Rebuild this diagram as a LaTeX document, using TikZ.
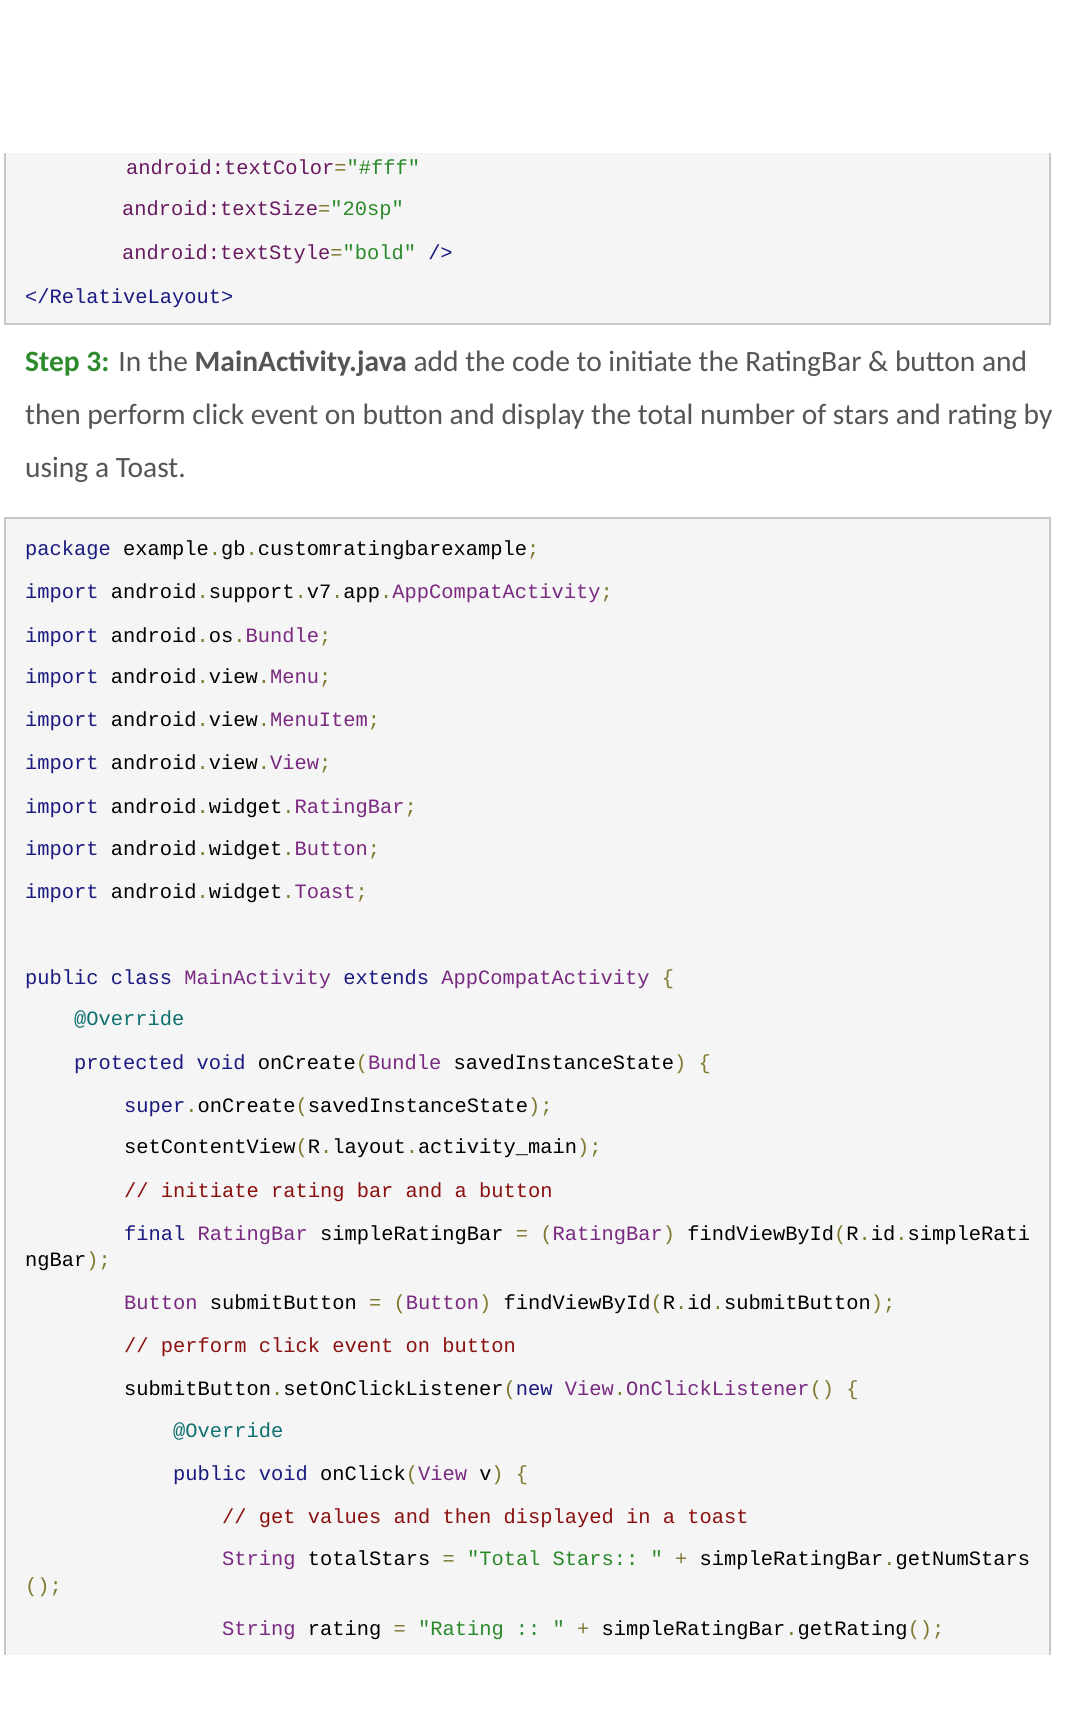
\documentclass[tikz,border=0pt]{standalone}
\usepackage{fontspec}
\setmainfont{Carlito}
\setmonofont{Liberation Mono}
\definecolor{kw}{HTML}{1A1A80}
\definecolor{cl}{HTML}{7A2A80}
\definecolor{pu}{HTML}{807A30}
\definecolor{st}{HTML}{2A8A2A}
\definecolor{cm}{HTML}{8B1010}
\definecolor{an}{HTML}{107070}
\definecolor{xa}{HTML}{6A1A60}
\definecolor{para}{HTML}{555555}
\definecolor{stepc}{HTML}{2E8B2E}
\newcommand{\kw}[1]{\textcolor{kw}{#1}}
\newcommand{\cl}[1]{\textcolor{cl}{#1}}
\newcommand{\pu}[1]{\textcolor{pu}{#1}}
\newcommand{\stx}[1]{\textcolor{st}{#1}}
\newcommand{\cm}[1]{\textcolor{cm}{#1}}
\newcommand{\an}[1]{\textcolor{an}{#1}}
\newcommand{\xa}[1]{\textcolor{xa}{#1}}
\begin{document}
\begin{tikzpicture}[x=1pt,y=-1pt,
 code/.style={anchor=base west,inner sep=0pt,font=\fontsize{20.4}{24}\ttfamily,text=black},
 ptext/.style={anchor=base west,inner sep=0pt,font=\fontsize{29.5}{34}\selectfont,text=para},
 boxfill/.style={fill=black!4},
 boxline/.style={draw=black!22,line width=1.5pt}]
\useasboundingbox[fill=white] (0,0) rectangle (1080,1716);
% box 1
\fill[boxfill] (5,153) rectangle (1050,324);
\draw[boxline] (5,153) -- (5,324) -- (1050,324) -- (1050,153);
\node[code] (a1) at (126,174) {\xa{android:textColor}\pu{=}\stx{"\#fff"}};
\node[code] (a2) at (122,215) {\xa{android:textSize}\pu{=}\stx{"20sp"}};
\node[code] (a3) at (122,259) {\xa{android:textStyle}\pu{=}\stx{"bold"} \kw{/>}};
\node[code] (a4) at (25,303) {\kw{</RelativeLayout>}};
% paragraph
\node[ptext] (p1) at (25,371) {\textcolor{stepc}{\bfseries Step 3:} In the {\bfseries MainActivity.java} add the code to initiate the RatingBar \& button and};
\node[ptext] (p2) at (25,424) {then perform click event on button and display the total number of stars and rating by};
\node[ptext] (p3) at (25,477) {using a Toast.};
% box 2
\fill[boxfill] (5,518) rectangle (1050,1655);
\draw[boxline] (5,1655) -- (5,518) -- (1050,518) -- (1050,1655);
\node[code] (c1) at (25,555) {\kw{package} example\pu{.}gb\pu{.}customratingbarexample\pu{;}};
\node[code] (c2) at (25,598) {\kw{import} android\pu{.}support\pu{.}v7\pu{.}app\pu{.}\cl{AppCompatActivity}\pu{;}};
\node[code] (c3) at (25,642) {\kw{import} android\pu{.}os\pu{.}\cl{Bundle}\pu{;}};
\node[code] (c4) at (25,683) {\kw{import} android\pu{.}view\pu{.}\cl{Menu}\pu{;}};
\node[code] (c5) at (25,726) {\kw{import} android\pu{.}view\pu{.}\cl{MenuItem}\pu{;}};
\node[code] (c6) at (25,769) {\kw{import} android\pu{.}view\pu{.}\cl{View}\pu{;}};
\node[code] (c7) at (25,813) {\kw{import} android\pu{.}widget\pu{.}\cl{RatingBar}\pu{;}};
\node[code] (c8) at (25,855) {\kw{import} android\pu{.}widget\pu{.}\cl{Button}\pu{;}};
\node[code] (c9) at (25,898) {\kw{import} android\pu{.}widget\pu{.}\cl{Toast}\pu{;}};
\node[code] (c10) at (25,984) {\kw{public class} \cl{MainActivity} \kw{extends} \cl{AppCompatActivity} \pu{\{}};
\node[code] (c11) at (74,1025) {\an{@Override}};
\node[code] (c12) at (74,1069) {\kw{protected void} onCreate\pu{(}\cl{Bundle} savedInstanceState\pu{)} \pu{\{}};
\node[code] (c13) at (124,1112) {\kw{super}\pu{.}onCreate\pu{(}savedInstanceState\pu{);}};
\node[code] (c14) at (124,1153) {setContentView\pu{(}R\pu{.}layout\pu{.}activity\_main\pu{);}};
\node[code] (c15) at (124,1197) {\cm{// initiate rating bar and a button}};
\node[code] (c16) at (124,1240) {\kw{final} \cl{RatingBar} simpleRatingBar \pu{=} \pu{(}\cl{RatingBar}\pu{)} findViewById\pu{(}R\pu{.}id\pu{.}simpleRati};
\node[code] (c17) at (25,1266) {ngBar\pu{);}};
\node[code] (c18) at (124,1309) {\cl{Button} submitButton \pu{=} \pu{(}\cl{Button}\pu{)} findViewById\pu{(}R\pu{.}id\pu{.}submitButton\pu{);}};
\node[code] (c19) at (124,1352) {\cm{// perform click event on button}};
\node[code] (c20) at (124,1395) {submitButton\pu{.}setOnClickListener\pu{(}\kw{new} \cl{View\pu{.}OnClickListener}\pu{()} \pu{\{}};
\node[code] (c21) at (173,1437) {\an{@Override}};
\node[code] (c22) at (173,1480) {\kw{public void} onClick\pu{(}\cl{View} v\pu{)} \pu{\{}};
\node[code] (c23) at (222,1523) {\cm{// get values and then displayed in a toast}};
\node[code] (c24) at (222,1565) {\cl{String} totalStars \pu{=} \stx{"Total Stars:: "} \pu{+} simpleRatingBar\pu{.}getNumStars};
\node[code] (c25) at (25,1592) {\pu{();}};
\node[code] (c26) at (222,1635) {\cl{String} rating \pu{=} \stx{"Rating :: "} \pu{+} simpleRatingBar\pu{.}getRating\pu{();}};
\end{tikzpicture}
\end{document}
